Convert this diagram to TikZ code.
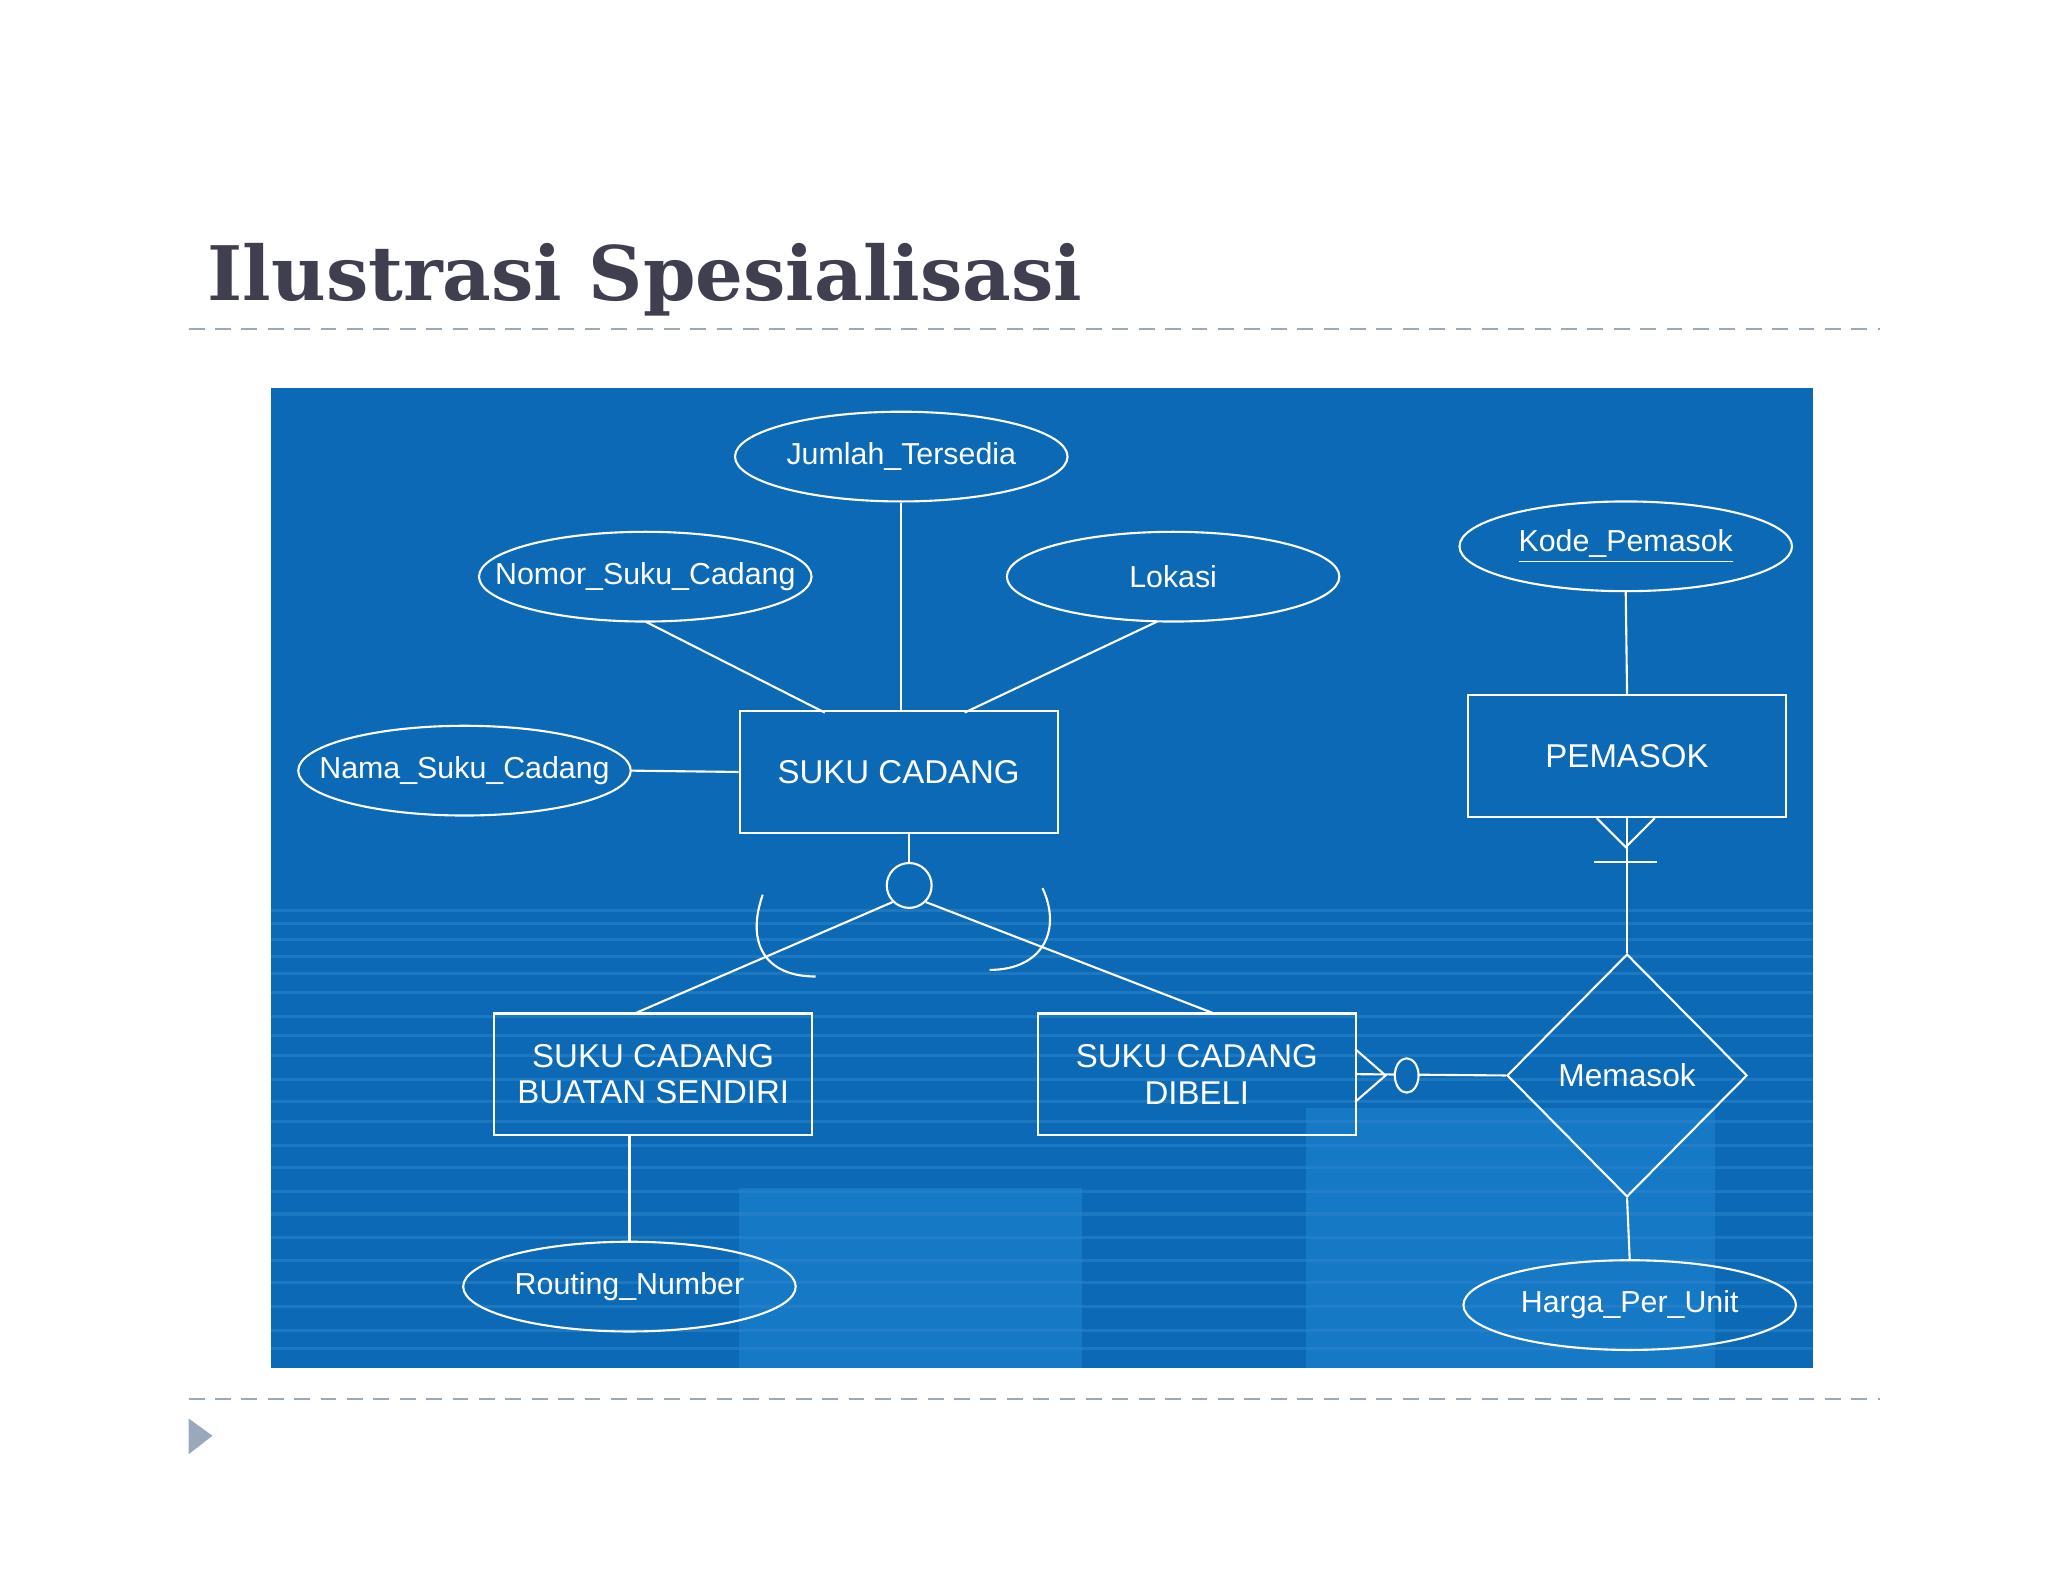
\documentclass[tikz,border=0pt]{standalone}
\usepackage{fontspec}
\setmainfont{Liberation Sans}
\newfontfamily\titlefont{DejaVu Serif}
\usetikzlibrary{shapes.geometric}
\definecolor{bgblue}{HTML}{0B69B5}
\definecolor{stripe}{HTML}{2A82CC}
\definecolor{patch}{HTML}{1679C6}
\definecolor{titlec}{HTML}{3F3F4F}
\definecolor{dashc}{HTML}{9AA8BC}
\newcommand{\zb}[1]{\makebox[0pt]{#1}}
\tikzset{
  attr/.style={ellipse,draw=white,thick,minimum width=126pt,minimum height=34pt,inner sep=0pt,text=white,font=\fontsize{11.5}{14}\selectfont},
  ent/.style={rectangle,draw=white,thick,minimum width=120.5pt,minimum height=46pt,inner sep=0pt,text=white,font=\fontsize{12.5}{14}\selectfont,align=center},
  rel/.style={diamond,draw=white,thick,minimum width=91pt,minimum height=92pt,inner sep=0pt,text=white,font=\fontsize{12}{14}\selectfont},
  wl/.style={draw=white,thick},
  dl/.style={draw=dashc,dashed,dash pattern=on 6pt off 4pt,line width=0.8pt}
}
\begin{document}
\begin{tikzpicture}[x=0.5pt,y=-0.5pt]
\useasboundingbox (0,0) rectangle (1552,1199);
\fill[white] (0,0) rectangle (1552,1199);
\node[anchor=base west,inner sep=0,text=titlec,font=\titlefont\bfseries\fontsize{28.5}{32}\selectfont] (title) at (157,228) {Ilustrasi Spesialisasi};
\draw[dl] (143,249) -- (1425,249);
\draw[dl] (143,1060) -- (1425,1060);
\fill[dashc] (143,1075) -- (161,1088) -- (143,1102) -- cycle;
% background
\fill[bgblue] (205,294) rectangle (1374,1037);
\fill[patch] (560,900) rectangle (820,1037);
\fill[patch] (990,840) rectangle (1300,1037);
\foreach \y in {690,700,712,725,738,752,770,785,800,818,835,850,868,885,903,920,938,955,972,990,1008,1022}
  \draw[stripe,line width=1.2pt,opacity=0.6] (205,\y) -- (1374,\y);
% nodes
\node[attr] (jt) at (683,346) {\zb{Jumlah\_Tersedia}};
\node[attr] (nsc) at (489,437) {\zb{Nomor\_Suku\_Cadang}};
\node[attr] (lok) at (889,437) {\zb{Lokasi}};
\node[attr] (nama) at (352,584) {\zb{Nama\_Suku\_Cadang}};
\node[attr] (kode) at (1232,414) {\zb{\underline{Kode\_Pemasok}}};
\node[attr] (rn) at (477,975) {\zb{Routing\_Number}};
\node[attr] (hpu) at (1235,989) {\zb{Harga\_Per\_Unit}};
\node[ent] (sc) at (681,585) {SUKU CADANG};
\node[ent] (pem) at (1233,573) {PEMASOK};
\node[ent] (scbs) at (495,814) {SUKU CADANG\\BUATAN SENDIRI};
\node[ent] (scd) at (907,814) {SUKU CADANG\\DIBELI};
\node[rel] (mem) at (1233,815) {Memasok};
\node[circle,draw=white,thick,minimum size=17pt,inner sep=0] (iso) at (689,671) {};
% connectors
\draw[wl] (jt.south) -- (sc.north -| jt.south);
\draw[wl] (489,471) -- (625,540);
\draw[wl] (877,471) -- (731,540);
\draw[wl] (nama.east) -- (sc.west);
\draw[wl] (sc.south -| iso.north) -- (iso.north);
\draw[wl] (iso.south west) -- (481,768);
\draw[wl] (iso.south east) -- (920,768);
\draw[wl] (578,678) .. controls (565,715) and (580,740) .. (618,740);
\draw[wl] (790,673) .. controls (805,705) and (790,735) .. (750,735);
\draw[wl] (scbs.south -| rn.north) -- (rn.north);
\draw[wl] (kode.south) -- (pem.north);
\draw[wl] (pem.south) -- (mem.north);
\draw[wl] (1210,620) -- (1232,642) -- (1254,620);
\draw[wl] (1208,653) -- (1256,653);
\draw[wl] (mem.south) -- (hpu.north);
\draw[wl] (scd.east) -- (mem.west);
\draw[wl] (1027,795) -- (1050,815) -- (1027,835);
\draw[wl,fill=bgblue] (1066,815) ellipse (9 and 13);
\end{tikzpicture}
\end{document}
